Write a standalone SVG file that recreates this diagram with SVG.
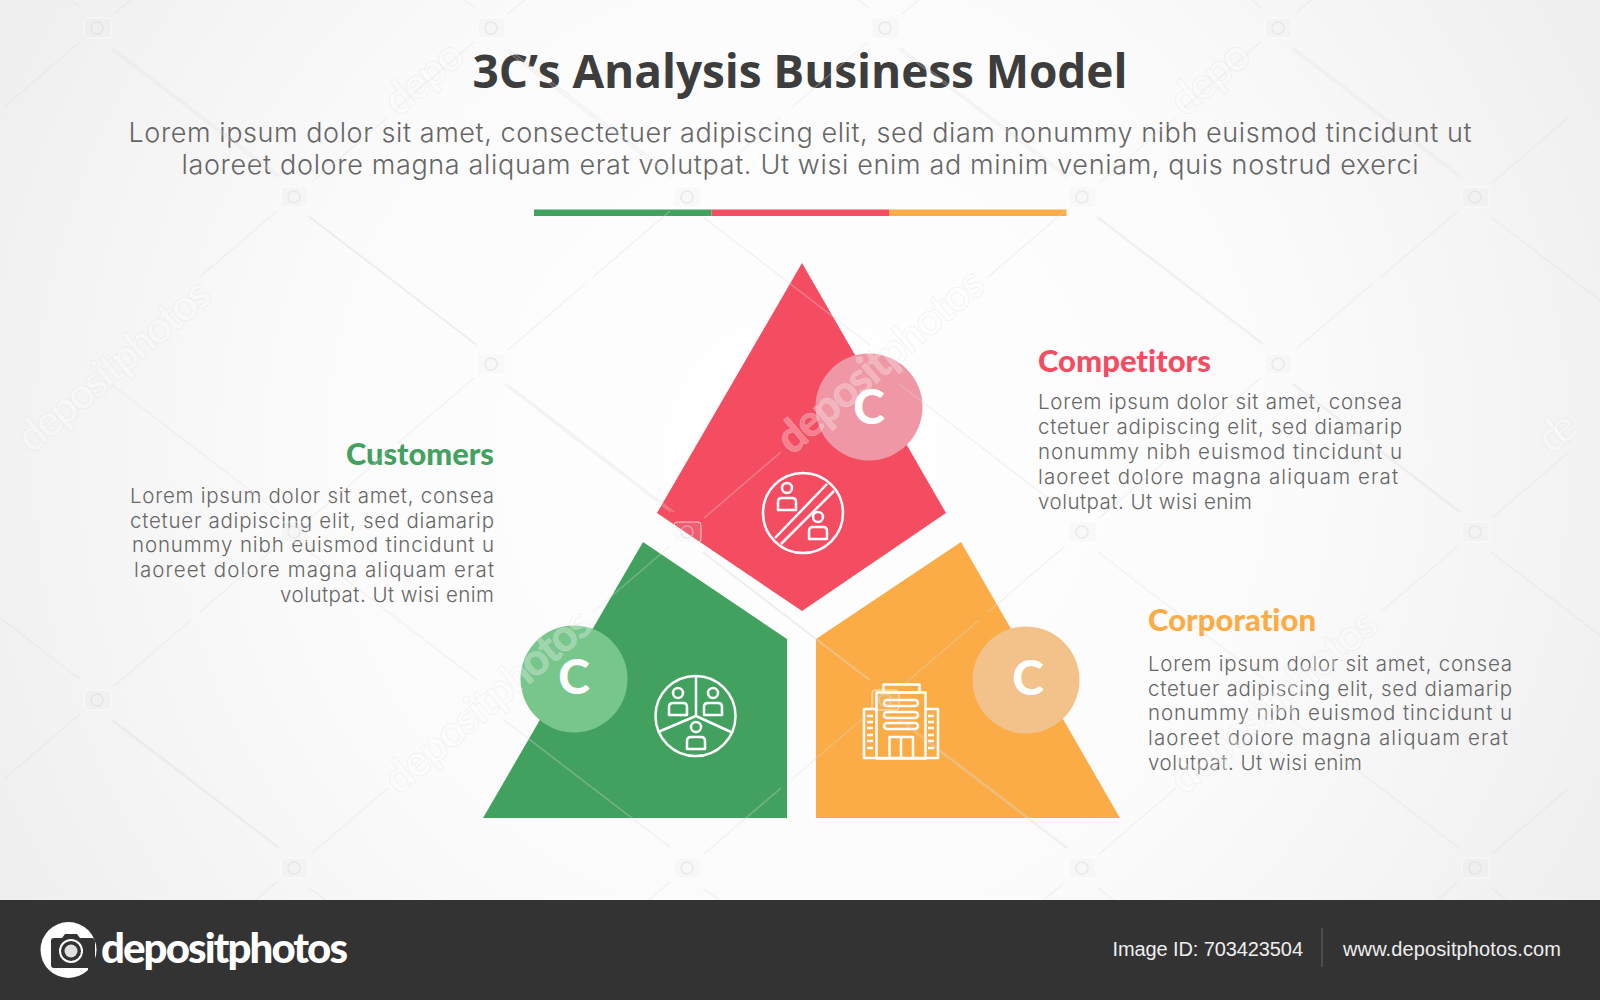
<svg xmlns="http://www.w3.org/2000/svg" width="1600" height="1000" viewBox="0 0 1600 1000">
<style>
.t{font-family:"Inter","Liberation Sans",sans-serif;font-weight:300;fill:#666;}
.lead{font-size:27px;}
.p{font-size:20.5px;}
.h{font-family:"Lato","Liberation Sans",sans-serif;font-weight:900;font-size:30.500px;font-variant-ligatures:none;}
.c{font-family:"Lato","Liberation Sans",sans-serif;font-weight:900;font-size:48px;fill:#fff;text-anchor:middle;}
.ic{fill:none;stroke:#fff;stroke-width:2.5;stroke-linejoin:round;}
.wm{font-family:"Lato","Liberation Sans",sans-serif;font-weight:700;font-size:44px;fill:#fff;fill-opacity:.3;stroke:#dcdcdc;stroke-opacity:.4;stroke-width:.7;font-variant-ligatures:none;}
.ft{font-family:"Liberation Sans",Arial,sans-serif;font-size:20px;fill:#eee;}
.wl{stroke:#dedede;stroke-opacity:.32;stroke-width:1.5;fill:none;}
</style>
<defs>
<radialGradient id="bg" gradientUnits="userSpaceOnUse" cx="800" cy="450" r="900">
<stop offset="0" stop-color="#ffffff"/><stop offset=".55" stop-color="#fbfbfb"/><stop offset="1" stop-color="#efefef"/>
</radialGradient>
<g id="person" class="ic">
<circle cx="0" cy="0" r="5"/>
<path d="M-9 22V14Q-9 10 -5 10H5Q9 10 9 14V22Z"/>
</g>
<g id="cell">
<rect x="-13" y="-10" width="27" height="20" rx="3" fill="#dcdcdc" fill-opacity=".12" stroke="#fff" stroke-opacity=".7"/>
<circle r="6" fill="none" stroke="#dcdcdc" stroke-opacity=".5" stroke-width="1.5"/>
<path class="wl" d="M16 20L183 148M-17 14L-94 80M17 -14L94 -80M-16 -20L-183 -148"/>
</g>
</defs>
<rect id="background" width="1600" height="1000" fill="url(#bg)"/>
<g id="header">
<text x="800" y="88" text-anchor="middle" font-family="Open Sans, Liberation Sans, sans-serif" font-weight="700" font-size="46" fill="#3d3d3d" textLength="655">3C’s Analysis Business Model</text>
<text class="t lead" x="128.5" y="142" textLength="1343">Lorem ipsum dolor sit amet, consectetuer adipiscing elit, sed diam nonummy nibh euismod tincidunt ut</text>
<text class="t lead" x="181.5" y="174" textLength="1237">laoreet dolore magna aliquam erat volutpat. Ut wisi enim ad minim veniam, quis nostrud exerci</text>
<rect x="534" y="209.500" width="177.500" height="6.500" fill="#43A160"/>
<rect x="711.500" y="209.500" width="177.500" height="6.500" fill="#F44D62"/>
<rect x="889" y="209.500" width="177.500" height="6.500" fill="#FBAC46"/>
</g>
<g id="node-competitors">
<polygon points="802,263 946,513 802,611 657,513" fill="#F44D62"/>
<circle cx="869" cy="407" r="53.500" fill="#F097A5"/>
<text class="c" x="869" y="424">C</text>
<g class="ic">
<circle cx="803" cy="513" r="40"/>
<path d="M775 538L827 484M781 544L834 491"/>
</g>
<use href="#person" x="787" y="488"/>
<use href="#person" x="818" y="517"/>
<text class="h" x="1038" y="372" fill="#F44D62" textLength="173" lengthAdjust="spacingAndGlyphs">Competitors</text>
<text class="t p" x="1038" y="409" textLength="364">Lorem ipsum dolor sit amet, consea</text>
<text class="t p" x="1038" y="434" textLength="364">ctetuer adipiscing elit, sed diamarip</text>
<text class="t p" x="1038" y="459" textLength="364">nonummy nibh euismod tincidunt u</text>
<text class="t p" x="1038" y="484" textLength="360">laoreet dolore magna aliquam erat</text>
<text class="t p" x="1038" y="509" textLength="214">volutpat. Ut wisi enim</text>
</g>
<g id="node-customers">
<polygon points="643,542 787,639 787,818 483,818" fill="#43A160"/>
<circle cx="574" cy="679" r="53.500" fill="#77C68B"/>
<text class="c" x="574" y="694">C</text>
<g class="ic">
<circle cx="695.500" cy="716" r="40"/>
<path d="M696 676V716M658 732L696 716L731 732"/>
</g>
<use href="#person" x="678" y="693"/>
<use href="#person" x="713" y="693"/>
<use href="#person" x="696" y="727"/>
<text class="h" x="494" y="465" fill="#43A160" text-anchor="end" textLength="148" lengthAdjust="spacingAndGlyphs">Customers</text>
<text class="t p" x="130" y="502.500" textLength="364">Lorem ipsum dolor sit amet, consea</text>
<text class="t p" x="130" y="527.500" textLength="364">ctetuer adipiscing elit, sed diamarip</text>
<text class="t p" x="132" y="552" textLength="362">nonummy nibh euismod tincidunt u</text>
<text class="t p" x="134" y="577" textLength="360">laoreet dolore magna aliquam erat</text>
<text class="t p" x="280" y="602" textLength="214">volutpat. Ut wisi enim</text>
</g>
<g id="node-corporation">
<polygon points="961,542 816,639 816,818 1120,818" fill="#FBAC46"/>
<circle cx="1026" cy="680" r="53.500" fill="#F3C28A"/>
<text class="c" x="1028" y="695">C</text>
<g class="ic">
<rect x="883.500" y="684.500" width="36" height="8"/>
<rect x="876.500" y="692.500" width="49" height="66"/>
<path d="M876 709H864V758H938V709H926"/>
<rect x="884" y="700" width="34" height="6" rx="3"/>
<rect x="884" y="712" width="34" height="6" rx="3"/>
<rect x="884" y="723" width="34" height="6" rx="3"/>
<path d="M889.500 758V737H913V758M901 737V758"/>
<path d="M867 716H873M867 722H873M867 728H873M867 735H873M867 741H873M867 748H873M928 716H934M928 722H934M928 728H934M928 735H934M928 741H934M928 748H934"/>
</g>
<text class="h" x="1148" y="631" fill="#FBAC46" textLength="168" lengthAdjust="spacingAndGlyphs">Corporation</text>
<text class="t p" x="1148" y="671" textLength="364">Lorem ipsum dolor sit amet, consea</text>
<text class="t p" x="1148" y="696" textLength="364">ctetuer adipiscing elit, sed diamarip</text>
<text class="t p" x="1148" y="720" textLength="364">nonummy nibh euismod tincidunt u</text>
<text class="t p" x="1148" y="745" textLength="360">laoreet dolore magna aliquam erat</text>
<text class="t p" x="1148" y="770" textLength="214">volutpat. Ut wisi enim</text>
</g>
<g id="watermark">
<use href="#cell" x="97" y="28"/><use href="#cell" x="491" y="28"/><use href="#cell" x="885" y="28"/><use href="#cell" x="1278" y="28"/>
<use href="#cell" x="294" y="197"/><use href="#cell" x="687" y="197"/><use href="#cell" x="1082" y="197"/><use href="#cell" x="1475" y="197"/>
<use href="#cell" x="491" y="364"/><use href="#cell" x="1278" y="364"/>
<use href="#cell" x="294" y="532"/><use href="#cell" x="687" y="532"/><use href="#cell" x="1082" y="532"/><use href="#cell" x="1475" y="532"/>
<use href="#cell" x="97" y="700"/><use href="#cell" x="885" y="700"/>
<use href="#cell" x="294" y="868"/><use href="#cell" x="687" y="868"/><use href="#cell" x="1082" y="868"/><use href="#cell" x="1475" y="868"/>
<text class="wm" transform="translate(32 455) rotate(-40.600)" textLength="240">depositphotos</text>
<text class="wm" transform="translate(792 456) rotate(-40.600)" textLength="258">depositphotos</text>
<text class="wm" transform="translate(1552 456) rotate(-40.600)" textLength="38">de</text>
<text class="wm" transform="translate(399 118) rotate(-40.600)" textLength="90">depo</text>
<text class="wm" transform="translate(1185 118) rotate(-40.600)" textLength="90">depo</text>
<text class="wm" transform="translate(399 796) rotate(-40.600)" textLength="258">depositphotos</text>
<text class="wm" transform="translate(1185 796) rotate(-40.600)" textLength="258">depositphotos</text>
</g>
<g id="footer">
<rect y="900" width="1600" height="100" fill="#333"/>
<circle cx="68.500" cy="950" r="28" fill="#fff"/>
<path d="M51 941Q51 938 54 938H62L65 934H77L80 938H92Q95 938 95 941V970L88 972V968H54Q51 968 51 965Z" fill="#333"/>
<circle cx="71" cy="951" r="11" fill="none" stroke="#fff" stroke-width="2"/>
<circle cx="71" cy="951" r="6.500" fill="#fff" fill-opacity=".85"/>
<text x="101" y="963" font-family="Lato, Liberation Sans, sans-serif" font-weight="900" font-size="42" fill="#fff" textLength="247" style="font-variant-ligatures:none">depositphotos</text>
<text class="ft" x="1112.500" y="956" textLength="190.500">Image ID: 703423504</text>
<rect x="1321.500" y="928" width="1" height="39" fill="#666"/>
<text class="ft" x="1343" y="956" textLength="218">www.depositphotos.com</text>
</g>
</svg>
